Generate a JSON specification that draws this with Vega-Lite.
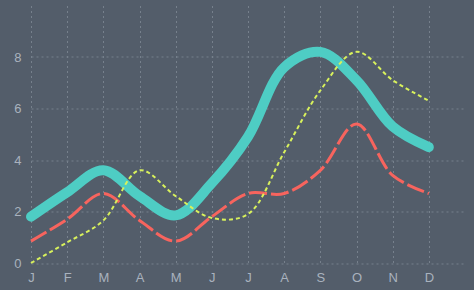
{
  "$schema": "https://vega.github.io/schema/vega-lite/v6.json",
  "width": 434,
  "height": 257.5,
  "autosize": "none",
  "padding": {"left": 31, "top": 5.5, "right": 9, "bottom": 27},
  "background": "#535d6a",
  "config": {
    "view": {"stroke": null},
    "axis": {
      "domain": false,
      "ticks": false,
      "labelFont": "Liberation Sans",
      "labelFontSize": 13,
      "labelColor": "#a9b2be",
      "gridColor": "#76808c",
      "gridDash": [2, 3],
      "gridWidth": 1,
      "title": null
    }
  },
  "data": {
    "values": [
      {"m": 0, "s": "teal", "v": 1.8}, {"m": 1, "s": "teal", "v": 2.75}, {"m": 2, "s": "teal", "v": 3.6},
      {"m": 3, "s": "teal", "v": 2.6}, {"m": 4, "s": "teal", "v": 1.85}, {"m": 5, "s": "teal", "v": 3.1},
      {"m": 6, "s": "teal", "v": 4.9}, {"m": 7, "s": "teal", "v": 7.6}, {"m": 8, "s": "teal", "v": 8.2},
      {"m": 9, "s": "teal", "v": 7.1}, {"m": 10, "s": "teal", "v": 5.3}, {"m": 11, "s": "teal", "v": 4.5},
      {"m": 0, "s": "red", "v": 0.85}, {"m": 1, "s": "red", "v": 1.7}, {"m": 2, "s": "red", "v": 2.7},
      {"m": 3, "s": "red", "v": 1.65}, {"m": 4, "s": "red", "v": 0.85}, {"m": 5, "s": "red", "v": 1.8},
      {"m": 6, "s": "red", "v": 2.7}, {"m": 7, "s": "red", "v": 2.7}, {"m": 8, "s": "red", "v": 3.6},
      {"m": 9, "s": "red", "v": 5.4}, {"m": 10, "s": "red", "v": 3.4}, {"m": 11, "s": "red", "v": 2.7},
      {"m": 0, "s": "yellow", "v": 0}, {"m": 1, "s": "yellow", "v": 0.8}, {"m": 2, "s": "yellow", "v": 1.65},
      {"m": 3, "s": "yellow", "v": 3.6}, {"m": 4, "s": "yellow", "v": 2.6}, {"m": 5, "s": "yellow", "v": 1.75},
      {"m": 6, "s": "yellow", "v": 1.9}, {"m": 7, "s": "yellow", "v": 4.3}, {"m": 8, "s": "yellow", "v": 6.7},
      {"m": 9, "s": "yellow", "v": 8.2}, {"m": 10, "s": "yellow", "v": 7.1}, {"m": 11, "s": "yellow", "v": 6.3}
    ]
  },
  "encoding": {
    "x": {
      "field": "m", "type": "quantitative",
      "scale": {"domain": [0, 12], "nice": false, "zero": false},
      "axis": {
        "values": [0,1,2,3,4,5,6,7,8,9,10,11],
        "labelExpr": "['J','F','M','A','M','J','J','A','S','O','N','D'][datum.value]",
        "labelPadding": 8,
        "labelDx": 3,
        "labelFlush": false
      }
    },
    "y": {
      "field": "v", "type": "quantitative",
      "scale": {"domain": [0, 10], "nice": false},
      "axis": {"values": [0, 2, 4, 6, 8], "labelPadding": 10}
    }
  },
  "layer": [
    {
      "transform": [{"filter": "datum.s === 'teal'"}],
      "mark": {"type": "line", "interpolate": "catmull-rom", "color": "#4ecdc4", "strokeWidth": 10, "strokeCap": "round", "strokeJoin": "round"}
    },
    {
      "transform": [{"filter": "datum.s === 'red'"}],
      "mark": {"type": "line", "interpolate": "catmull-rom", "color": "#f7645e", "strokeWidth": 3, "strokeDash": [18, 4]}
    },
    {
      "transform": [{"filter": "datum.s === 'yellow'"}],
      "mark": {"type": "line", "interpolate": "catmull-rom", "color": "#d8f15c", "strokeWidth": 2, "strokeDash": [4, 3]}
    }
  ]
}
